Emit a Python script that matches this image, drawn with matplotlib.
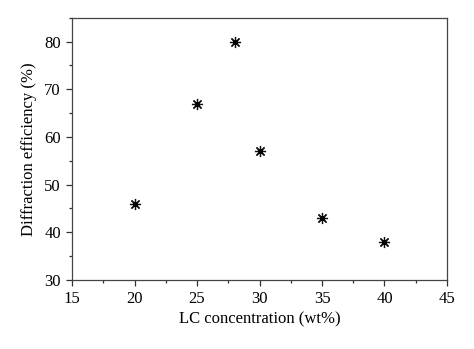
import matplotlib
matplotlib.use("Agg")
import matplotlib.pyplot as plt
from matplotlib.ticker import MultipleLocator

# Eficiencia de difraccion frente a concentracion de LC
lc_conc = [20, 25, 28, 30, 35, 40]
efficiency = [46, 67, 80, 57, 43, 38]

plt.rcParams["font.family"] = ["Liberation Serif", "DejaVu Serif"]
plt.rcParams["font.size"] = 12

fig = plt.figure(figsize=(4.74, 3.49), dpi=100)
ax = fig.add_axes([0.152, 0.198, 0.791, 0.751])

ax.plot(lc_conc, efficiency, linestyle="none", marker=(8, 2, 0),
        markersize=8, markeredgewidth=0.9, color="#111111")
ax.plot(lc_conc, efficiency, linestyle="none", marker="o",
        markersize=2.6, color="black")

ax.set_xlim(15, 45)
ax.set_ylim(30, 85)
ax.xaxis.set_major_locator(MultipleLocator(5))
ax.xaxis.set_minor_locator(MultipleLocator(2.5))
ax.yaxis.set_major_locator(MultipleLocator(10))
ax.yaxis.set_minor_locator(MultipleLocator(5))
ax.tick_params(which="major", direction="out", length=4, width=0.9,
               color="#333333", pad=4)
ax.tick_params(which="minor", direction="out", length=2.5, width=0.9,
               color="#333333")
for s in ax.spines.values():
    s.set_color("#444444")
    s.set_linewidth(0.9)

ax.set_xlabel("LC concentration (wt%)", labelpad=3)
ax.set_ylabel("Diffraction efficiency (%)", labelpad=5)

fig.savefig("out.png", dpi=100, facecolor="white")
